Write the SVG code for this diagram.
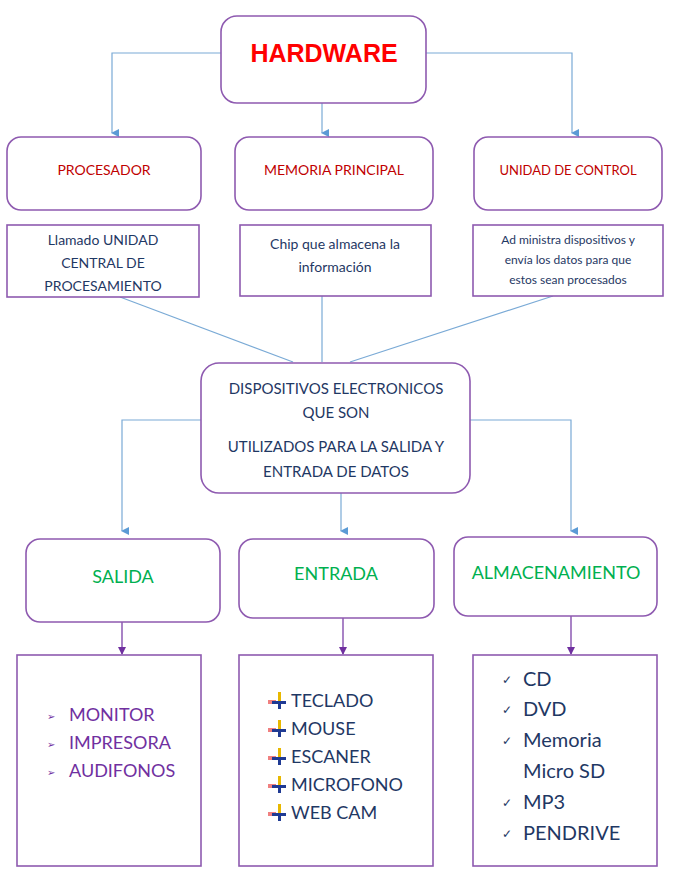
<svg xmlns="http://www.w3.org/2000/svg" width="682" height="872" viewBox="0 0 682 872">
<defs>
<marker id="ab" markerWidth="8" markerHeight="8" refX="4" refY="7" orient="auto-start-reverse" markerUnits="userSpaceOnUse"><path d="M0,0 L8,0 L4,8 Z" fill="#5b9bd5" transform="rotate(0)"/></marker>
<marker id="ap" markerWidth="8" markerHeight="8" refX="4" refY="7" markerUnits="userSpaceOnUse"><path d="M0,0 L8,0 L4,8 Z" fill="#7030a0"/></marker>
<style>
.n{fill:#fff;stroke:#8e5ab0;stroke-width:1.6}
.c{fill:none;stroke:#7aaad6;stroke-width:1.2}
.cp{fill:none;stroke:#7030a0;stroke-width:1.2}
text{font-family:Lato,"Open Sans","Liberation Sans",sans-serif;text-anchor:middle}
.r{fill:#c00000;font-size:14px}
.b{fill:#1f3864;font-size:14px}
.g{fill:#00b050;font-size:18px}
.l{text-anchor:start}
</style>
</defs>
<rect width="682" height="872" fill="#fff"/>
<g id="connectors">
<path class="c" d="M221,53 H112 V133" marker-end="url(#ab)"/>
<path class="c" d="M322,103 V133" marker-end="url(#ab)"/>
<path class="c" d="M426,53 H572 V133" marker-end="url(#ab)"/>
<path class="c" d="M120,297 L293,362"/>
<path class="c" d="M322,296 V362"/>
<path class="c" d="M553,296 L350,362"/>
<path class="c" d="M201,420 H122 V531" marker-end="url(#ab)"/>
<path class="c" d="M341,493 V531" marker-end="url(#ab)"/>
<path class="c" d="M470,420 H571 V531" marker-end="url(#ab)"/>
<path class="cp" d="M122,622 V654" marker-end="url(#ap)"/>
<path class="cp" d="M343,618 V654" marker-end="url(#ap)"/>
<path class="cp" d="M571,616 V654" marker-end="url(#ap)"/>
</g>
<g id="hardware"><rect class="n" x="221" y="16" width="205" height="87" rx="16"/>
<text x="324" y="62" style="fill:#ff0000;font-family:'Liberation Sans',sans-serif;font-weight:bold;font-size:25px">HARDWARE</text></g>
<g id="procesador"><rect class="n" x="7" y="137" width="194" height="73" rx="14"/><text class="r" x="104" y="175">PROCESADOR</text></g>
<g id="memoria"><rect class="n" x="235" y="137" width="198" height="73" rx="14"/><text class="r" x="334" y="175">MEMORIA PRINCIPAL</text></g>
<g id="unidad"><rect class="n" x="474" y="137" width="188" height="73" rx="14"/><text class="r" x="568" y="175" style="font-size:13px">UNIDAD DE CONTROL</text></g>
<g id="desc1"><rect class="n" x="7" y="225" width="192" height="72"/><text class="b" x="103" y="245">Llamado UNIDAD</text><text class="b" x="103" y="268">CENTRAL DE</text><text class="b" x="103" y="291">PROCESAMIENTO</text></g>
<g id="desc2"><rect class="n" x="240" y="225" width="191" height="71"/><text class="b" x="335" y="249">Chip que almacena la</text><text class="b" x="335" y="272">información</text></g>
<g id="desc3"><rect class="n" x="473" y="225" width="190" height="71"/><g style="font-size:12px"><text class="b" x="568" y="244" style="font-size:12px">Ad ministra dispositivos y</text><text class="b" x="568" y="264" style="font-size:12px">envía los datos para que</text><text class="b" x="568" y="284" style="font-size:12px">estos sean procesados</text></g></g>
<g id="dispositivos"><rect class="n" x="201" y="363" width="269" height="130" rx="18"/>
<text class="b" x="336" y="394" style="font-size:15px">DISPOSITIVOS ELECTRONICOS</text>
<text class="b" x="336" y="418" style="font-size:15px">QUE SON</text>
<text class="b" x="336" y="452" style="font-size:15px">UTILIZADOS PARA LA SALIDA Y</text>
<text class="b" x="336" y="477" style="font-size:15px">ENTRADA DE DATOS</text></g>
<g id="salida"><rect class="n" x="26" y="539" width="194" height="83" rx="14"/><text class="g" x="123" y="583">SALIDA</text></g>
<g id="entrada"><rect class="n" x="239" y="539" width="195" height="79" rx="14"/><text class="g" x="336" y="580">ENTRADA</text></g>
<g id="almacenamiento"><rect class="n" x="454" y="537" width="203" height="79" rx="14"/><text class="g" x="556" y="579">ALMACENAMIENTO</text></g>
<g id="list-salida"><rect class="n" x="17" y="655" width="184" height="211"/>
<g style="fill:#7030a0;font-size:18px"><text class="l" x="69" y="721" fill="#7030a0">MONITOR</text><text class="l" x="69" y="749" fill="#7030a0">IMPRESORA</text><text class="l" x="69" y="777" fill="#7030a0">AUDIFONOS</text>
<text class="l" x="47" y="720" style="font-size:10px" fill="#7030a0">➢</text><text class="l" x="47" y="748" style="font-size:10px" fill="#7030a0">➢</text><text class="l" x="47" y="776" style="font-size:10px" fill="#7030a0">➢</text></g></g>
<g id="list-entrada"><rect class="n" x="239" y="655" width="194" height="211"/>
<g fill="#1f3864" style="font-size:18px">
<text class="l" x="291" y="707">TECLADO</text><text class="l" x="291" y="735">MOUSE</text><text class="l" x="291" y="763">ESCANER</text><text class="l" x="291" y="791">MICROFONO</text><text class="l" x="291" y="819">WEB CAM</text></g>
<g>
<g transform="translate(268,692)"><rect x="0" y="8" width="8" height="4" fill="#f08080"/><rect x="10" y="0" width="3" height="17" fill="#e8b800"/><rect x="4" y="9" width="14" height="3" fill="#1f3a93"/><rect x="10" y="9" width="3" height="8" fill="#1f3a93"/></g>
<g transform="translate(268,720)"><rect x="0" y="8" width="8" height="4" fill="#f08080"/><rect x="10" y="0" width="3" height="17" fill="#e8b800"/><rect x="4" y="9" width="14" height="3" fill="#1f3a93"/><rect x="10" y="9" width="3" height="8" fill="#1f3a93"/></g>
<g transform="translate(268,748)"><rect x="0" y="8" width="8" height="4" fill="#f08080"/><rect x="10" y="0" width="3" height="17" fill="#e8b800"/><rect x="4" y="9" width="14" height="3" fill="#1f3a93"/><rect x="10" y="9" width="3" height="8" fill="#1f3a93"/></g>
<g transform="translate(268,776)"><rect x="0" y="8" width="8" height="4" fill="#f08080"/><rect x="10" y="0" width="3" height="17" fill="#e8b800"/><rect x="4" y="9" width="14" height="3" fill="#1f3a93"/><rect x="10" y="9" width="3" height="8" fill="#1f3a93"/></g>
<g transform="translate(268,804)"><rect x="0" y="8" width="8" height="4" fill="#f08080"/><rect x="10" y="0" width="3" height="17" fill="#e8b800"/><rect x="4" y="9" width="14" height="3" fill="#1f3a93"/><rect x="10" y="9" width="3" height="8" fill="#1f3a93"/></g>
</g></g>
<g id="list-almacenamiento"><rect class="n" x="473" y="655" width="184" height="211"/>
<g fill="#1f3864" style="font-size:20px">
<text class="l" x="523" y="686">CD</text><text class="l" x="523" y="716">DVD</text><text class="l" x="523" y="747">Memoria</text><text class="l" x="523" y="778">Micro SD</text><text class="l" x="523" y="809">MP3</text><text class="l" x="523" y="840">PENDRIVE</text></g>
<g fill="#1f3864" style="font-size:12px">
<text class="l" x="502" y="684">✓</text><text class="l" x="502" y="714">✓</text><text class="l" x="502" y="745">✓</text><text class="l" x="502" y="807">✓</text><text class="l" x="502" y="838">✓</text></g></g>
</svg>
